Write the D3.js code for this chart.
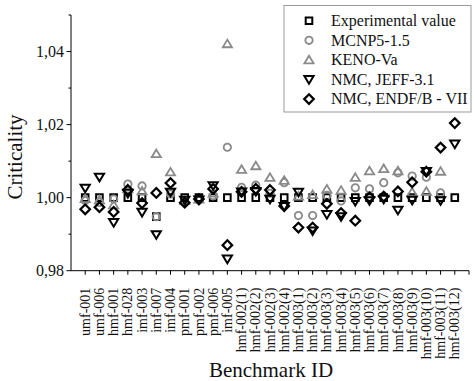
<!DOCTYPE html>
<html>
<head>
<meta charset="utf-8">
<script src="https://cdn.jsdelivr.net/npm/d3@7"></script>
<style>
  html, body { margin: 0; padding: 0; background: #fff; }
  svg { display: block; font-family: "Liberation Serif", "DejaVu Serif", serif; }
</style>
</head>
<body>
<svg id="chart" width="474" height="381"></svg>
<script>
const categories = ["umf-001","umf-006","hmf-001","hmf-028","imf-003","imf-007","imf-004","pmf-001","pmf-002","pmf-006","imf-005",
  "hmf-002(1)","hmf-002(2)","hmf-002(3)","hmf-002(4)",
  "hmf-003(1)","hmf-003(2)","hmf-003(3)","hmf-003(4)","hmf-003(5)","hmf-003(6)","hmf-003(7)","hmf-003(8)","hmf-003(9)","hmf-003(10)","hmf-003(11)","hmf-003(12)"];

const experimental = [1,1,1,1,1,0.9948,1,1,1,1,1,1,1,1,1,1,1,1,1,1,1,1,1,1,1,1,1];
const mcnp  = [0.9992,0.9987,0.9996,1.0037,1.0032,0.9948,1.0010,0.9988,0.9993,1.0005,1.0138,1.0028,1.0034,1.0012,1.0041,0.9951,0.9951,1.0006,0.9991,1.0027,1.0024,1.0041,1.0068,1.0059,1.0056,1.0013,null];
const keno  = [0.9997,0.9994,0.9980,1.0024,1.0018,1.0120,1.0070,0.9992,0.9996,1.0012,1.0421,1.0077,1.0087,1.0055,1.0047,1.0004,1.0008,1.0023,1.0020,1.0055,1.0073,1.0079,1.0073,1.0015,1.0017,1.0072,null];
const jeff  = [1.0026,1.0056,0.9932,1.0012,0.9960,0.9899,1.0015,0.9993,0.9994,1.0033,0.9832,1.0016,1.0017,0.9996,0.9976,1.0015,0.9909,0.9954,0.9948,0.9990,0.9992,0.9996,0.9966,0.9993,1.0072,0.9992,1.0147];
const endf  = [0.9968,0.9974,0.9961,1.0021,0.9985,1.0013,1.0040,0.9986,0.9996,1.0024,0.9870,1.0016,1.0024,1.0021,0.9977,0.9918,0.9918,0.9983,0.9958,0.9937,1.0001,1.0003,1.0017,1.0042,1.0071,1.0137,1.0204];

const seriesNames = ["Experimental value","MCNP5-1.5","KENO-Va","NMC, JEFF-3.1","NMC, ENDF/B - VII"];
const yTickValues = [0.98, 1.00, 1.02, 1.04];
const yTickLabels = ["0,98","1,00","1,02","1,04"];

const GRAY = "#8a8a8a";
const series = [
  {name: seriesNames[0], values: experimental, shape: "square",  color: "#000", sw: 2},
  {name: seriesNames[1], values: mcnp,         shape: "circle",  color: GRAY,   sw: 1.8},
  {name: seriesNames[2], values: keno,         shape: "triUp",   color: GRAY,   sw: 1.8},
  {name: seriesNames[3], values: jeff,         shape: "triDown", color: "#000", sw: 2},
  {name: seriesNames[4], values: endf,         shape: "diamond", color: "#000", sw: 2.2}
];

function shapePath(shape) {
  switch (shape) {
    case "square":  return "M-3.3,-3.3H3.3V3.3H-3.3Z";
    case "circle":  return d3.arc()({innerRadius:0, outerRadius:3.7, startAngle:0, endAngle:2*Math.PI});
    case "triUp":   return "M0,-4.2L4.6,3.4L-4.6,3.4Z";
    case "triDown": return "M0,4.2L4.6,-3.4L-4.6,-3.4Z";
    case "diamond": return "M0,-4.8L4.8,0L0,4.8L-4.8,0Z";
  }
}

const svg = d3.select("#chart");
const plotLeft = 71, plotRight = 469, plotTop = 15, plotBottom = 270.7;

const x = d3.scaleLinear().domain([0, 28]).range([plotLeft, plotRight]);
const y = d3.scaleLinear().domain([0.98, 1.05]).range([plotBottom, plotTop]);

// Y axis
const yAxisG = svg.append("g").attr("transform", `translate(${plotLeft},0)`);
yAxisG.append("line").attr("x1",0).attr("x2",0).attr("y1",y(1.05)).attr("y2",y(0.98)).attr("stroke","#000").attr("stroke-width",1);
d3.range(0, 8).forEach(i => {
  const v = 0.98 + i * 0.01;
  const major = i % 2 === 0;
  yAxisG.append("line").attr("x1", major ? -4.5 : -2.5).attr("x2", 0)
    .attr("y1", y(v)).attr("y2", y(v)).attr("stroke","#000").attr("stroke-width",1);
});
yTickValues.forEach((v, i) => {
  yAxisG.append("text").attr("x", -7).attr("y", y(v)).attr("dy","0.33em")
    .attr("text-anchor","end").attr("font-size","16px").attr("fill","#111").text(yTickLabels[i]);
});

// X axis
const xAxisG = svg.append("g").attr("transform", `translate(0,${plotBottom})`);
xAxisG.append("line").attr("x1", x(0)).attr("x2", x(28)).attr("y1",0).attr("y2",0).attr("stroke","#000").attr("stroke-width",1);
d3.range(1, 29).forEach(i => {
  xAxisG.append("line").attr("x1", x(i)).attr("x2", x(i)).attr("y1", 0).attr("y2", 4)
    .attr("stroke","#000").attr("stroke-width",1);
});
categories.forEach((c, i) => {
  xAxisG.append("text")
    .attr("transform", `translate(${x(i+1)},17) rotate(-90)`)
    .attr("text-anchor","end").attr("dy","0.33em")
    .attr("font-size","14px").attr("fill","#111").text(c);
});

// Data
series.forEach(s => {
  svg.append("g").selectAll("path")
    .data(s.values.map((v, i) => ({v, i})).filter(d => d.v !== null))
    .join("path")
    .attr("d", shapePath(s.shape))
    .attr("transform", d => `translate(${x(d.i+1)},${y(d.v)})`)
    .attr("fill", "none").attr("stroke", s.color).attr("stroke-width", s.sw);
});

// Axis titles
svg.append("text").attr("transform","translate(22,157) rotate(-90)")
  .attr("text-anchor","middle").attr("font-size","21px").attr("fill","#111").text("Criticality");
svg.append("text").attr("x", 271).attr("y", 376.5)
  .attr("text-anchor","middle").attr("font-size","21px").attr("fill","#111").text("Benchmark ID");

// Legend
const lg = svg.append("g");
lg.append("rect").attr("x",284).attr("y",5.5).attr("width",187).attr("height",106.5)
  .attr("fill","#fff").attr("stroke","#9a9a9a").attr("stroke-width",1);
series.forEach((s, i) => {
  const yy = 20.7 + i * 19.6;
  lg.append("path").attr("d", shapePath(s.shape)).attr("transform", `translate(309,${yy})`)
    .attr("fill","none").attr("stroke", s.color).attr("stroke-width", s.sw);
  lg.append("text").attr("x", 331).attr("y", yy).attr("dy","0.33em")
    .attr("font-size","16px").attr("fill","#111").text(s.name);
});
</script>
</body>
</html>
